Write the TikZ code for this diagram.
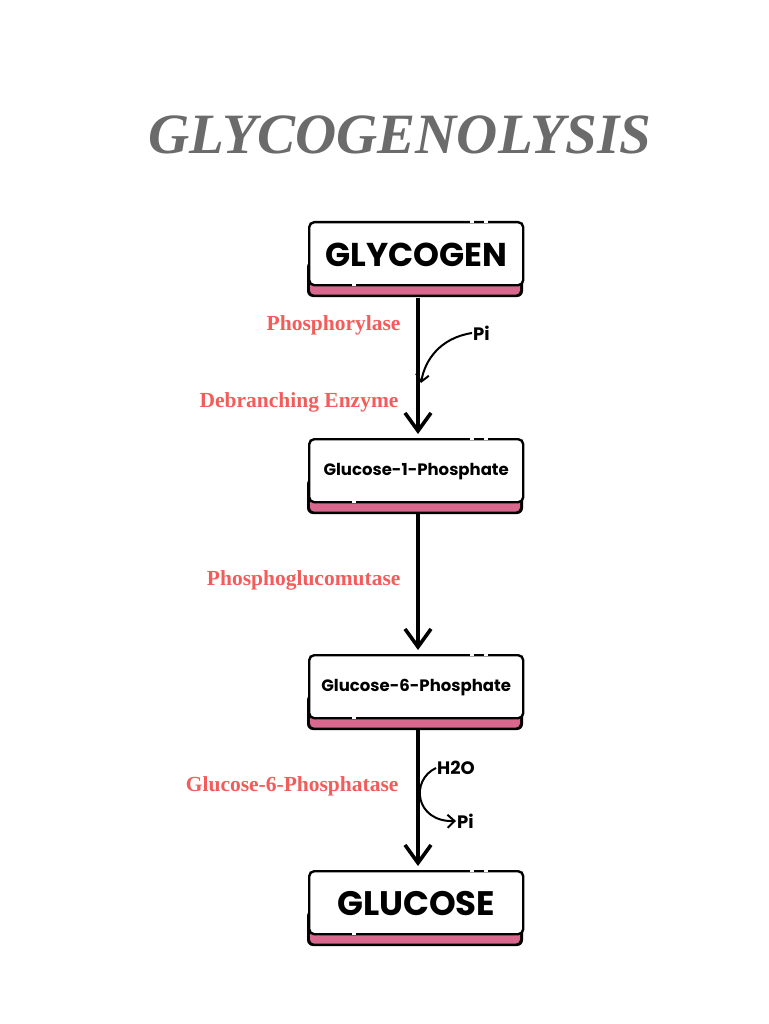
\documentclass[tikz,border=0pt]{standalone}
\usepackage{fontspec}
\setmainfont{Poppins}
\newfontfamily\titlefont{Liberation Serif}
\newfontfamily\labfont{Liberation Serif}
\usetikzlibrary{arrows.meta}
\definecolor{pinkb}{HTML}{D9688F}
\definecolor{redl}{HTML}{F45B5B}
\definecolor{titleg}{HTML}{6B6B6B}
\tikzset{
  pbox/.style={draw=black,line width=2.4pt,rounded corners=5pt,fill=white,minimum width=214pt,minimum height=63pt,inner sep=0pt},
  conn/.style={line width=3.6pt,-{Straight Barb[length=18pt,width=26pt,line width=3.6pt]}},
  enz/.style={text=redl,font=\labfont\bfseries\fontsize{21.5}{21}\selectfont,anchor=east},
  small/.style={line width=2pt,-{Straight Barb[length=7pt,width=13pt,line width=2pt]}},
  smalltext/.style={font=\bfseries\fontsize{18}{18}\selectfont,anchor=west,inner sep=1pt},
}
\newcommand{\pinkbox}[3]{%
  \fill[black,rounded corners=6pt] (307,#2+40) rectangle (523,#2+76);
  \fill[pinkb,rounded corners=4pt] (310,#2+55) rectangle (520,#2+73.5);
  \node[pbox,anchor=north west] (#1) at (308,#2) {};
  \node[font=#3] at ([yshift=-1pt]#1.center) {\textbf{\csname lab#1\endcsname}};
  \fill[white] (470,#2-2) rectangle (474,#2+2);
  \fill[white] (484,#2-2) rectangle (488,#2+2);
  \fill[white] (352,#2+61) rectangle (356,#2+65);
}
\begin{document}
\begin{tikzpicture}[x=1pt,y=-1pt]
\useasboundingbox (0,0) rectangle (768,1024);
\node[text=titleg,font=\titlefont\bfseries\itshape\fontsize{57}{57}\selectfont] (title) at (400,135) {GLYCOGENOLYSIS};
\def\labA{GLYCOGEN}\def\labB{Glucose-1-Phosphate}\def\labC{Glucose-6-Phosphate}\def\labD{GLUCOSE}
\pinkbox{A}{221}{\fontsize{33}{33}\selectfont}
\pinkbox{B}{438}{\fontsize{16.5}{17}\selectfont}
\pinkbox{C}{654}{\fontsize{16.5}{17}\selectfont}
\pinkbox{D}{870}{\fontsize{34}{34}\selectfont}
\coordinate (a1) at (418,298);\coordinate (a2) at (418,434);
\coordinate (b1) at (418,514);\coordinate (b2) at (418,650);
\coordinate (c1) at (418,730);\coordinate (c2) at (418,866);
\draw[conn] (a1) -- (a2);
\draw[conn] (b1) -- (b2);
\draw[conn] (c1) -- (c2);
\node[enz] (e1) at (404,325) {Phosphorylase};
\node[enz] (e2) at (402,402) {Debranching Enzyme};
\node[enz] (e3) at (404,580) {Phosphoglucomutase};
\node[enz] (e4) at (402,786) {Glucose-6-Phosphatase};
\node[smalltext] (pi1) at (472,333) {Pi};
\draw[small] (pi1.west) .. controls (440,338) and (425,360) .. (421,383);
\node[smalltext] (h2o) at (436,768) {H2O};
\node[smalltext] (pi2) at (456,821) {Pi};
\draw[small] (h2o.west) .. controls (410,780) and (415,822) .. (pi2.west);
\end{tikzpicture}
\end{document}
